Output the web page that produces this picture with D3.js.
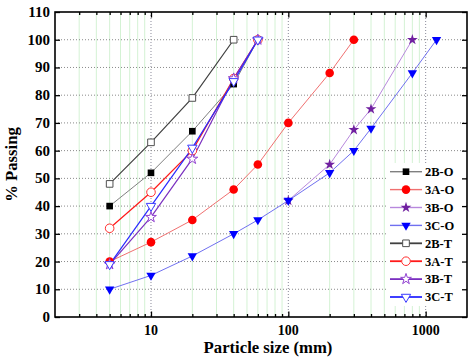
<!DOCTYPE html>
<html><head><meta charset="utf-8">
<script src="https://cdn.jsdelivr.net/npm/d3@7"></script>
<style>body{margin:0;background:#fff}svg{display:block}</style>
</head><body>
<svg id="c" width="474" height="362"></svg>
<script>
// ---- data ----
const seriesNames = ["2B-O","3A-O","3B-O","3C-O","2B-T","3A-T","3B-T","3C-T"];
const size2BO = [5,10,20,40,60];
const pass2BO = [40,52,67,84,100];
const size3AO = [5,10,20,40,60,100,200,300];
const pass3AO = [20,27,35,46,55,70,88,100];
const size3BO = [100,200,300,400,800];
const pass3BO = [42,55,67.5,75,100];
const size3CO = [5,10,20,40,60,100,200,300,400,800,1200];
const pass3CO = [10,15,22,30,35,42,52,60,68,88,100];
const size2BT = [5,10,20,40];
const pass2BT = [48,63,79,100];
const size3AT = [5,10,20,40,60];
const pass3AT = [32,45,60,86,100];
const size3BT = [5,10,20,40,60];
const pass3BT = [19,36,57,86,100];
const size3CT = [5,10,20,40,60];
const pass3CT = [19,40,61,85,100];
const xMajorTicks = [10,100,1000];
const yTicks = [0,10,20,30,40,50,60,70,80,90,100,110];

const styles = {
  "2B-O":{line:"#808080",mark:"#000",shape:"square",open:false,w:1},
  "3A-O":{line:"#f07070",mark:"#ff0000",shape:"circle",open:false,w:1},
  "3B-O":{line:"#b888dd",mark:"#7020a0",shape:"star",open:false,w:1},
  "3C-O":{line:"#7070f0",mark:"#0000ff",shape:"tri",open:false,w:1},
  "2B-T":{line:"#404040",mark:"#505050",shape:"square",open:true,w:1.2},
  "3A-T":{line:"#ff1a1a",mark:"#ff3030",shape:"circle",open:true,w:1.2},
  "3B-T":{line:"#7a2fc0",mark:"#9040d0",shape:"star",open:true,w:1.2},
  "3C-T":{line:"#2a2aff",mark:"#3a3aff",shape:"tri",open:true,w:1.2}
};
const data = {
  "2B-O":[size2BO,pass2BO],"3A-O":[size3AO,pass3AO],"3B-O":[size3BO,pass3BO],"3C-O":[size3CO,pass3CO],
  "2B-T":[size2BT,pass2BT],"3A-T":[size3AT,pass3AT],"3B-T":[size3BT,pass3BT],"3C-T":[size3CT,pass3CT]
};

const L=55,R=467,T=12,B=317;
const x = d3.scaleLog().domain([2,2000]).range([L,R]);
const y = d3.scaleLinear().domain([0,110]).range([B,T]);
const svg = d3.select("#c");
const FONT = "'Liberation Serif','Times New Roman',serif";

// minor ticks values
const minor = [];
[1,10,100].forEach(m=>{for(let k=2;k<=9;k++){const v=k*m; if(v>2 && v<2000 && !xMajorTicks.includes(v)) minor.push(v);}});

// grid
const g = svg.append("g");
g.selectAll(".gm").data(minor).join("line")
  .attr("x1",d=>x(d)).attr("x2",d=>x(d)).attr("y1",T).attr("y2",B)
  .attr("stroke","#d4f2d4").attr("stroke-width",1);
g.selectAll(".gM").data(xMajorTicks).join("line")
  .attr("x1",d=>x(d)).attr("x2",d=>x(d)).attr("y1",T).attr("y2",B)
  .attr("stroke","#8a8a9a").attr("stroke-width",1).attr("stroke-dasharray","1,2");
g.selectAll(".gy").data(yTicks.filter(v=>v>0&&v<110)).join("line")
  .attr("x1",L).attr("x2",R).attr("y1",d=>y(d)).attr("y2",d=>y(d))
  .attr("stroke","#8a8a8a").attr("stroke-width",1).attr("stroke-dasharray","1,2");

// symbols
function symPath(shape){
  if(shape==="square") return d3.symbol(d3.symbolSquare,44)();
  if(shape==="circle") return d3.symbol(d3.symbolCircle,58)();
  if(shape==="star") return d3.symbol(d3.symbolStar,36)();
  return d3.symbol(d3.symbolTriangle,38)();
}
function drawMarker(sel, st, px, py){
  const p = sel.append("path").attr("d",symPath(st.shape))
    .attr("transform",`translate(${px},${py})`+(st.shape==="tri"?" rotate(180)":""));
  if(st.open) p.attr("fill","#fff").attr("stroke",st.mark).attr("stroke-width",1);
  else p.attr("fill",st.mark);
}

const line = d3.line().x(d=>x(d[0])).y(d=>y(d[1]));
const plot = svg.append("g");
seriesNames.forEach(n=>{
  const st=styles[n]; const [xs,ys]=data[n];
  const pts = xs.map((v,i)=>[v,ys[i]]);
  plot.append("path").datum(pts).attr("d",line).attr("fill","none")
    .attr("stroke",st.line).attr("stroke-width",st.w);
});
seriesNames.forEach(n=>{
  const st=styles[n]; const [xs,ys]=data[n];
  xs.forEach((v,i)=>drawMarker(plot,st,x(v),y(ys[i])));
});

// legend
const lg = svg.append("g");
lg.append("rect").attr("x",386).attr("y",163).attr("width",R-386-1).attr("height",143).attr("fill","#fff");
seriesNames.forEach((n,i)=>{
  const st=styles[n]; const ly=171.7+i*17.9;
  lg.append("line").attr("x1",390).attr("x2",422).attr("y1",ly).attr("y2",ly)
    .attr("stroke",st.line).attr("stroke-width",st.open?1.8:1.4);
  drawMarker(lg,st,406,ly);
  lg.append("text").attr("x",425).attr("y",ly+4.3).text(n)
    .attr("font-family",FONT).attr("font-weight","bold").attr("font-size",12.5).attr("fill","#000");
});

// axes (ticks inward)
const ax = svg.append("g");
function tickAxis(axisFn, tr, vals, size){
  const a = ax.append("g").attr("transform",tr)
    .call(axisFn.tickValues(vals).tickSizeInner(size).tickSizeOuter(0).tickFormat(""));
  a.select(".domain").remove();
  a.selectAll("line").attr("stroke","#000").attr("stroke-width",1.3);
  return a;
}
tickAxis(d3.axisBottom(x),`translate(0,${B})`,minor,-3);
tickAxis(d3.axisBottom(x),`translate(0,${B})`,xMajorTicks,-5.5);
tickAxis(d3.axisTop(x),`translate(0,${T})`,minor,-3);
tickAxis(d3.axisTop(x),`translate(0,${T})`,xMajorTicks,-5.5);
tickAxis(d3.axisLeft(y),`translate(${L},0)`,yTicks,-5);
tickAxis(d3.axisRight(y),`translate(${R},0)`,yTicks,-5);

ax.append("rect").attr("x",L).attr("y",T).attr("width",R-L).attr("height",B-T)
  .attr("fill","none").attr("stroke","#000").attr("stroke-width",1.6);

// tick labels
ax.selectAll(".yl").data(yTicks).join("text")
  .attr("x",50).attr("y",d=>y(d)+5).attr("text-anchor","end").text(d=>d)
  .attr("font-family",FONT).attr("font-weight","bold").attr("font-size",15);
ax.selectAll(".xl").data(xMajorTicks).join("text")
  .attr("x",d=>x(d)).attr("y",335).attr("text-anchor","middle").text(d=>d)
  .attr("font-family",FONT).attr("font-weight","bold").attr("font-size",14);

svg.append("text").attr("x",268).attr("y",353).attr("text-anchor","middle")
  .text("Particle size (mm)").attr("font-family",FONT).attr("font-weight","bold").attr("font-size",16.7);
svg.append("text").attr("transform",`translate(17,${(T+B)/2}) rotate(-90)`).attr("text-anchor","middle")
  .text("% Passing").attr("font-family",FONT).attr("font-weight","bold").attr("font-size",16.7);
</script>
</body></html>
